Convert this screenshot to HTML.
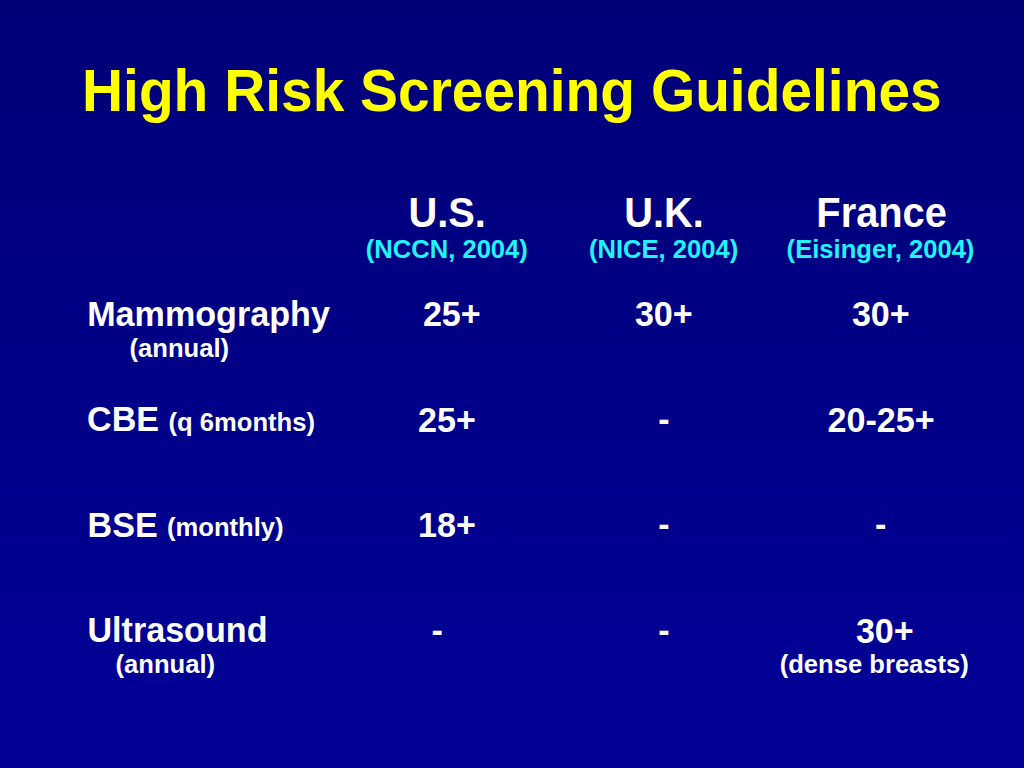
<!DOCTYPE html>
<html><head><meta charset="utf-8"><title>High Risk Screening Guidelines</title>
<style>
html,body{margin:0;padding:0;}
body{width:1024px;height:768px;overflow:hidden;position:relative;
background:linear-gradient(to bottom,#000077 0%,#000098 100%);
font-family:"Liberation Sans",Arial,Helvetica,sans-serif;font-weight:bold;}
.t{position:absolute;white-space:pre;line-height:1;}
</style></head><body>
<div class="t" style="left:82.00px;top:62.58px;font-size:56.89px;color:#ffff00;transform:scaleY(1.05);transform-origin:0 48.16px">High Risk Screening Guidelines</div>
<div class="t" style="left:447.10px;top:193.79px;font-size:39.82px;color:#ffffff;transform:translateX(-50%) scaleY(1.06);transform-origin:0 33.71px">U.S.</div>
<div class="t" style="left:664.10px;top:193.79px;font-size:39.82px;color:#ffffff;transform:translateX(-50%) scaleY(1.06);transform-origin:0 33.71px">U.K.</div>
<div class="t" style="left:881.60px;top:193.79px;font-size:39.82px;color:#ffffff;transform:translateX(-50%) scaleY(1.06);transform-origin:0 33.71px">France</div>
<div class="t" style="left:446.80px;top:236.83px;font-size:25.6px;color:#22f4ff;transform:translateX(-50%) scaleY(1.04);transform-origin:0 21.67px">(NCCN, 2004)</div>
<div class="t" style="left:663.60px;top:236.83px;font-size:25.6px;color:#22f4ff;transform:translateX(-50%) scaleY(1.04);transform-origin:0 21.67px">(NICE, 2004)</div>
<div class="t" style="left:880.50px;top:236.83px;font-size:25.6px;color:#22f4ff;transform:translateX(-50%) scaleY(1.04);transform-origin:0 21.67px">(Eisinger, 2004)</div>
<div class="t" style="left:87.20px;top:296.71px;font-size:34.13px;color:#ffffff;transform:scaleY(1.04);transform-origin:0 28.89px">Mammography</div>
<div class="t" style="left:129.50px;top:335.53px;font-size:25.6px;color:#ffffff;transform:scaleY(1.04);transform-origin:0 21.67px">(annual)</div>
<div class="t" style="left:422.90px;top:296.91px;font-size:34.13px;color:#ffffff;transform:scaleY(1.04);transform-origin:0 28.89px">25+</div>
<div class="t" style="left:634.90px;top:296.91px;font-size:34.13px;color:#ffffff;transform:scaleY(1.04);transform-origin:0 28.89px">30+</div>
<div class="t" style="left:851.90px;top:296.91px;font-size:34.13px;color:#ffffff;transform:scaleY(1.04);transform-origin:0 28.89px">30+</div>
<div class="t" style="left:87.00px;top:402.41px;font-size:34.13px;color:#ffffff;transform:scaleY(1.04);transform-origin:0 28.89px">CBE</div>
<div class="t" style="left:168.50px;top:409.63px;font-size:25.6px;color:#ffffff;transform:scaleY(1.04);transform-origin:0 21.67px">(q 6months)</div>
<div class="t" style="left:418.00px;top:402.71px;font-size:34.13px;color:#ffffff;transform:scaleY(1.04);transform-origin:0 28.89px">25+</div>
<div class="t" style="left:664.00px;top:401.91px;font-size:34.13px;color:#ffffff;transform:translateX(-50%) scaleY(1.04);transform-origin:0 28.89px">-</div>
<div class="t" style="left:827.50px;top:402.71px;font-size:34.13px;color:#ffffff;transform:scaleY(1.04);transform-origin:0 28.89px">20-25+</div>
<div class="t" style="left:87.60px;top:507.71px;font-size:34.13px;color:#ffffff;transform:scaleY(1.04);transform-origin:0 28.89px">BSE</div>
<div class="t" style="left:167.00px;top:514.93px;font-size:25.6px;color:#ffffff;transform:scaleY(1.04);transform-origin:0 21.67px">(monthly)</div>
<div class="t" style="left:418.00px;top:507.91px;font-size:34.13px;color:#ffffff;transform:scaleY(1.04);transform-origin:0 28.89px">18+</div>
<div class="t" style="left:664.00px;top:507.11px;font-size:34.13px;color:#ffffff;transform:translateX(-50%) scaleY(1.04);transform-origin:0 28.89px">-</div>
<div class="t" style="left:880.80px;top:507.11px;font-size:34.13px;color:#ffffff;transform:translateX(-50%) scaleY(1.04);transform-origin:0 28.89px">-</div>
<div class="t" style="left:87.40px;top:613.41px;font-size:34.13px;color:#ffffff;transform:scaleY(1.04);transform-origin:0 28.89px">Ultrasound</div>
<div class="t" style="left:115.50px;top:651.93px;font-size:25.6px;color:#ffffff;transform:scaleY(1.04);transform-origin:0 21.67px">(annual)</div>
<div class="t" style="left:437.10px;top:613.11px;font-size:34.13px;color:#ffffff;transform:translateX(-50%) scaleY(1.04);transform-origin:0 28.89px">-</div>
<div class="t" style="left:664.00px;top:613.11px;font-size:34.13px;color:#ffffff;transform:translateX(-50%) scaleY(1.04);transform-origin:0 28.89px">-</div>
<div class="t" style="left:855.90px;top:613.91px;font-size:34.13px;color:#ffffff;transform:scaleY(1.04);transform-origin:0 28.89px">30+</div>
<div class="t" style="left:779.70px;top:651.53px;font-size:25.6px;color:#ffffff;transform:scaleY(1.04);transform-origin:0 21.67px">(dense breasts)</div>
</body></html>
